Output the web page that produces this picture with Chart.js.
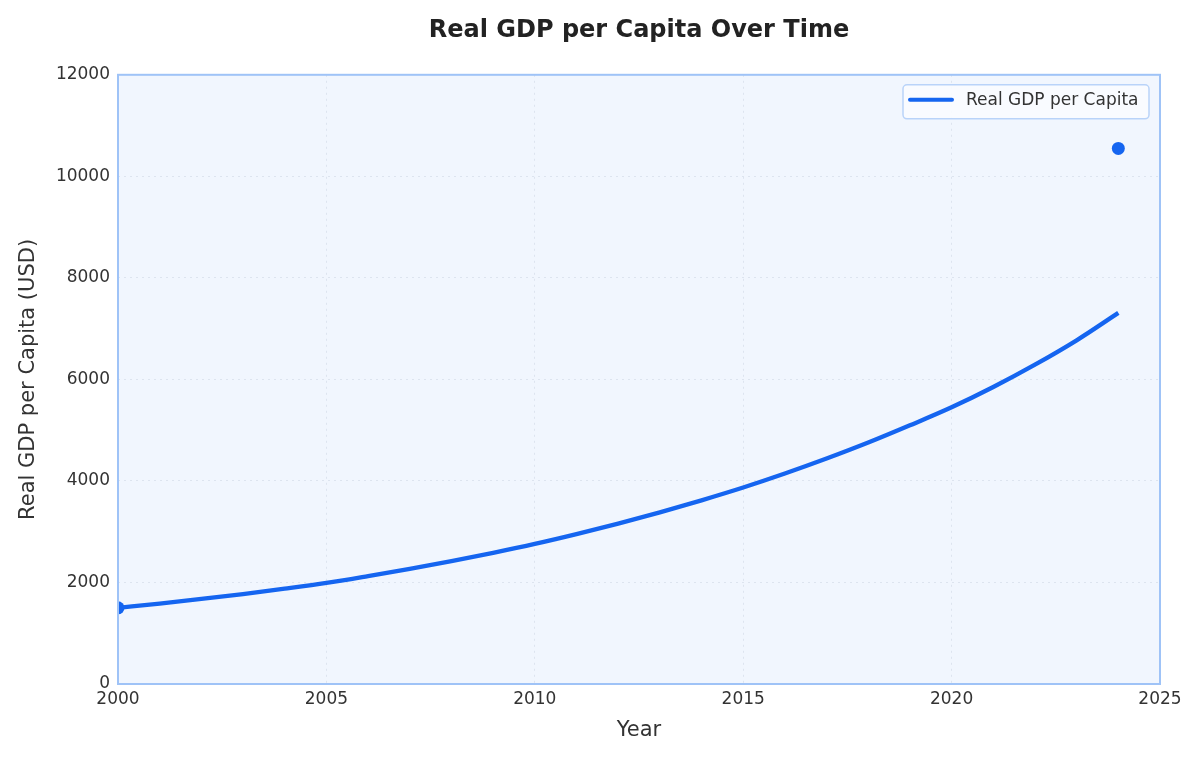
<!DOCTYPE html>
<html>
<head>
<meta charset="utf-8">
<script src="https://cdn.jsdelivr.net/npm/chart.js@4.4.1/dist/chart.umd.min.js"></script>
<style>
  html, body { margin: 0; padding: 0; background: #ffffff; }
  #wrap { width: 1200px; height: 761px; }
</style>
</head>
<body>
<div id="wrap"><canvas id="chart" width="1200" height="761"></canvas></div>
<script>
const years = [2000, 2001, 2002, 2003, 2004, 2005, 2006, 2007, 2008, 2009, 2010, 2011, 2012,
  2013, 2014, 2015, 2016, 2017, 2018, 2019, 2020, 2021, 2022, 2023, 2024]
const gdpPerCapita = [1500, 1585, 1675, 1772, 1877, 1990, 2125, 2268, 2421, 2585, 2760, 2953, 3160,
  3381, 3618, 3870, 4145, 4440, 4755, 5095, 5450, 5850, 6290, 6770, 7310]
const markerYears = [2000, 2024]
const markerValues = [1500, 10550]

const seriesLabel = 'Real GDP per Capita'
const lineColor = '#1565f0'
const fontFamily = '"DejaVu Sans", sans-serif'

// plot background + full border around the chart area
const plotFrame = {
  id: 'plotFrame',
  beforeDraw (chart) {
    const { ctx, chartArea: a } = chart
    ctx.save()
    ctx.fillStyle = '#f1f6fe'
    ctx.fillRect(a.left, a.top, a.right - a.left, a.bottom - a.top)
    ctx.restore()
  },
  afterDraw (chart) {
    const { ctx, chartArea: a } = chart
    ctx.save()
    ctx.strokeStyle = '#9fc3f7'
    ctx.lineWidth = 2
    ctx.strokeRect(a.left, a.top, a.right - a.left, a.bottom - a.top)

    // legend box, top right inside the plot
    const w = 246
    const h = 34
    const x = a.right - 11 - w
    const y = a.top + 10
    ctx.beginPath()
    ctx.roundRect(x, y, w, h, 4)
    ctx.fillStyle = 'rgba(250,252,255,0.9)'
    ctx.fill()
    ctx.lineWidth = 1.5
    ctx.strokeStyle = '#b9d3f9'
    ctx.stroke()
    ctx.beginPath()
    ctx.moveTo(x + 7, y + h / 2 - 2)
    ctx.lineTo(x + 49, y + h / 2 - 2)
    ctx.lineWidth = 4
    ctx.lineCap = 'round'
    ctx.strokeStyle = lineColor
    ctx.stroke()
    ctx.fillStyle = '#333333'
    ctx.font = '17px ' + fontFamily
    ctx.textBaseline = 'middle'
    ctx.fillText(seriesLabel, x + 63, y + h / 2 - 1)
    ctx.restore()
  }
}

const grid = {
  color: '#dde4ef',
  lineWidth: 1,
  drawTicks: false
}

// eslint-disable-next-line no-unused-vars, no-undef
const chart = new Chart(document.querySelector('#chart'), {
  type: 'line',
  data: {
    datasets: [{
      label: seriesLabel,
      data: years.map((y, i) => ({ x: y, y: gdpPerCapita[i] })),
      borderColor: lineColor,
      borderWidth: 4.3,
      pointRadius: 0,
      cubicInterpolationMode: 'monotone',
      fill: false,
      clip: 0
    }, {
      label: 'markers',
      data: markerYears.map((y, i) => ({ x: y, y: markerValues[i] })),
      showLine: false,
      pointRadius: 6.5,
      pointBackgroundColor: lineColor,
      pointBorderWidth: 0,
      clip: 0
    }]
  },
  options: {
    responsive: false,
    animation: false,
    layout: { padding: { left: 16, right: 40, bottom: 18, top: 0 } },
    plugins: {
      legend: { display: false },
      tooltip: { enabled: false },
      title: {
        display: true,
        text: 'Real GDP per Capita Over Time',
        fullSize: false,
        color: '#222222',
        font: { family: fontFamily, size: 24, weight: 'bold' },
        padding: { top: 16, bottom: 30 }
      }
    },
    scales: {
      x: {
        type: 'linear',
        min: 2000,
        max: 2025,
        grid: { ...grid },
        border: { display: false, dash: [2, 4] },
        ticks: {
          stepSize: 5,
          padding: 5,
          color: '#333333',
          font: { family: fontFamily, size: 17 },
          callback: v => String(v)
        },
        title: {
          display: true,
          text: 'Year',
          color: '#333333',
          font: { family: fontFamily, size: 21 },
          padding: { top: 4, bottom: 0 }
        },
        afterFit (scale) { scale.height = 59 }
      },
      y: {
        min: 0,
        max: 12000,
        grid: { ...grid },
        border: { display: false, dash: [2, 4] },
        ticks: {
          stepSize: 2000,
          padding: 8,
          color: '#333333',
          font: { family: fontFamily, size: 17 },
          callback: v => String(v)
        },
        title: {
          display: true,
          text: 'Real GDP per Capita (USD)',
          color: '#333333',
          font: { family: fontFamily, size: 21 },
          padding: { top: 0, bottom: 8 }
        },
        afterFit (scale) { scale.width = 102 }
      }
    }
  },
  plugins: [plotFrame]
})
</script>
</body>
</html>
